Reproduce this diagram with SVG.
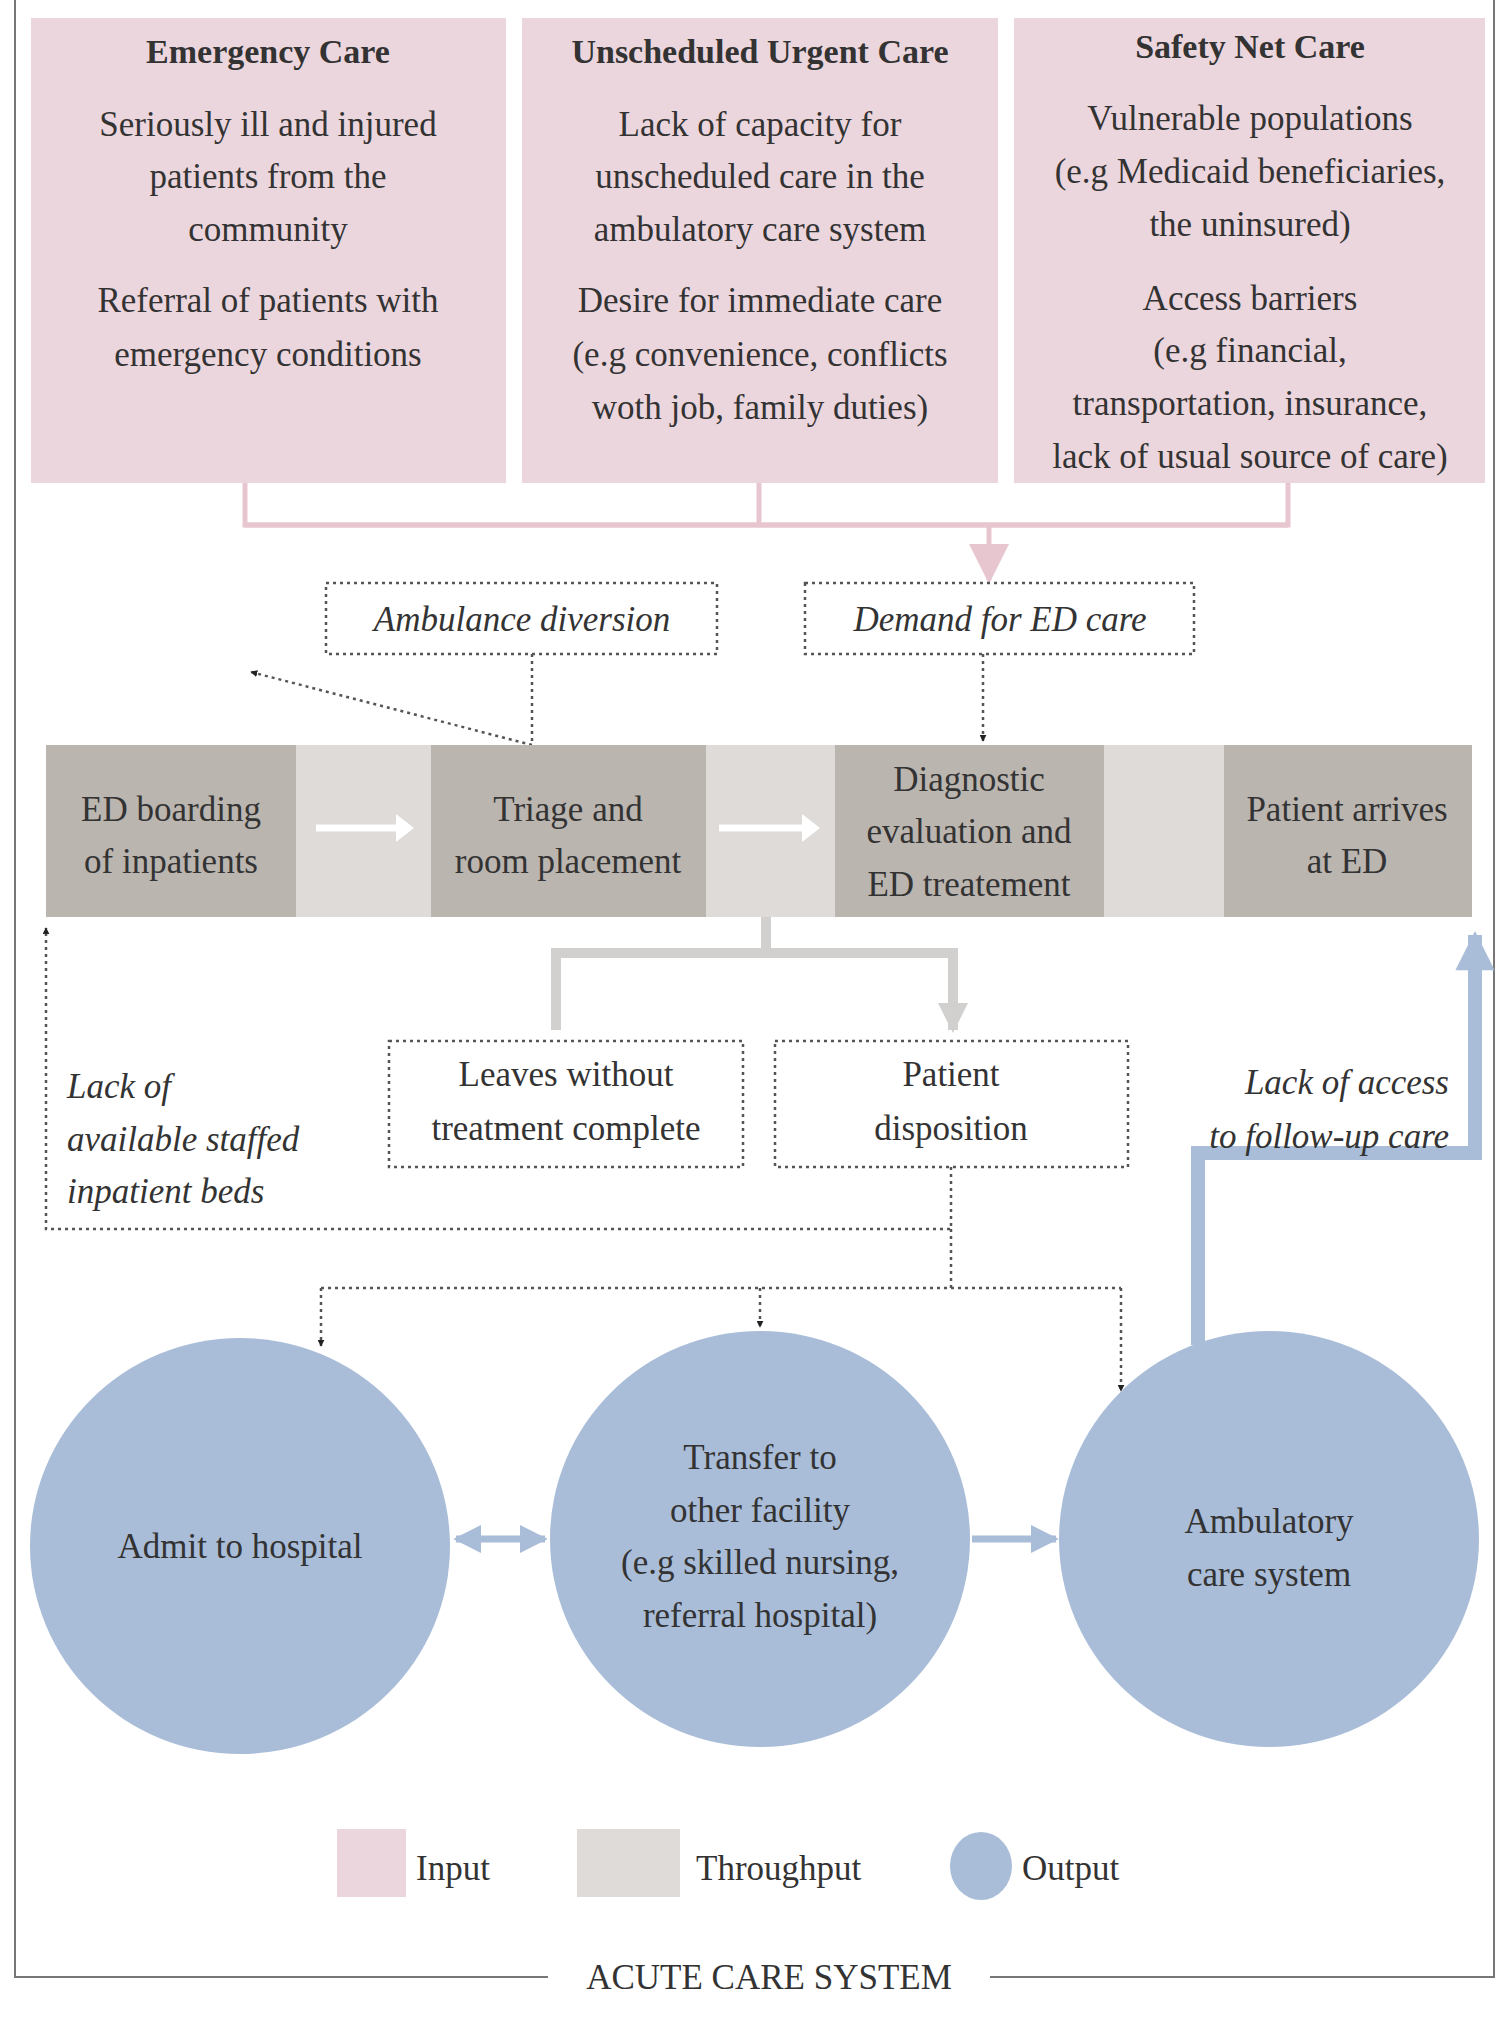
<svg xmlns="http://www.w3.org/2000/svg" width="1507" height="2020" viewBox="0 0 1507 2020">
<defs>
<style>
text{font-family:"Liberation Serif",serif;fill:#333;font-size:35px;text-anchor:middle}
.b{font-weight:bold;font-size:34px}
.i{font-style:italic}
.l{text-anchor:start}.r{text-anchor:end}
.pink{fill:#ecd6dd}
.dk{fill:#bbb5b0}
.blue{fill:#a9bdd8}
.dot{fill:none;stroke:#555;stroke-width:2.5;stroke-dasharray:3 4}
</style>
<marker id="ah" viewBox="0 0 10 10" refX="9" refY="5" markerWidth="7" markerHeight="7" markerUnits="userSpaceOnUse" orient="auto"><path d="M0,0L10,5L0,10z" fill="#222"/></marker>
<marker id="ap" viewBox="0 0 10 10" refX="9" refY="5" markerWidth="8" markerHeight="8" orient="auto"><path d="M0,0L10,5L0,10z" fill="#e8c6d0"/></marker>
<marker id="ag" viewBox="0 0 10 10" refX="9" refY="5" markerWidth="3" markerHeight="3" orient="auto"><path d="M0,0L10,5L0,10z" fill="#d2d0ce"/></marker>
<marker id="ab" viewBox="0 0 10 10" refX="9" refY="5" markerWidth="4" markerHeight="4" orient="auto-start-reverse"><path d="M0,0L10,5L0,10z" fill="#a9bdd8"/></marker>
<marker id="abig" viewBox="0 0 10 10" refX="9" refY="5" markerWidth="3.2" markerHeight="2.8" orient="auto"><path d="M0,0L10,5L0,10z" fill="#a9bdd8"/></marker>
</defs>
<rect width="1507" height="2020" fill="#fff"/>
<g id="frame" fill="none" stroke="#777" stroke-width="2">
<path d="M15,0V1977H548M990,1977H1494V0"/>
</g>
<text x="769" y="1989" font-size="36">ACUTE CARE SYSTEM</text>

<g id="connectors">
<path d="M245,483V525H1288V483M759,483V525M989,525V580" fill="none" stroke="#e8c6d0" stroke-width="5" marker-end="url(#ap)"/>
<path d="M245,525H1288" stroke="#e8c6d0" stroke-width="5"/>
<path class="dot" d="M983,654V741" marker-end="url(#ah)"/>
<path class="dot" d="M532,654V745L251,672" marker-end="url(#ah)"/>
<path d="M766,917V953M556,953H953M556,948V1030M953,948V1030" fill="none" stroke="#d2d0ce" stroke-width="10" marker-end="url(#ag)"/>
<path class="dot" d="M951,1167V1229H46V928" marker-end="url(#ah)"/>
<path class="dot" d="M951,1229V1288"/>
<path class="dot" d="M321,1288H1121"/>
<path class="dot" d="M321,1288V1346" marker-end="url(#ah)"/>
<path class="dot" d="M760,1288V1327" marker-end="url(#ah)"/>
<path class="dot" d="M1121,1288V1391" marker-end="url(#ah)"/>
<path d="M456,1539H545" stroke="#a9bdd8" stroke-width="7" marker-start="url(#ab)" marker-end="url(#ab)"/>
<path d="M972,1539H1056" stroke="#a9bdd8" stroke-width="7" marker-end="url(#ab)"/>
<path d="M1198,1345V1153H1475V935" fill="none" stroke="#a9bdd8" stroke-width="14" marker-end="url(#abig)"/>
</g>

<g id="emergency"><rect class="pink" x="31" y="18" width="475" height="465"/>
<text class="b" x="268" y="63">Emergency Care</text>
<text x="268" y="136">Seriously ill and injured</text>
<text x="268" y="188">patients from the</text>
<text x="268" y="241">community</text>
<text x="268" y="312">Referral of patients with</text>
<text x="268" y="366">emergency conditions</text></g>
<g id="urgent"><rect class="pink" x="522" y="18" width="476" height="465"/>
<text class="b" x="760" y="63">Unscheduled Urgent Care</text>
<text x="760" y="136">Lack of capacity for</text>
<text x="760" y="188">unscheduled care in the</text>
<text x="760" y="241">ambulatory care system</text>
<text x="760" y="312">Desire for immediate care</text>
<text x="760" y="366">(e.g convenience, conflicts</text>
<text x="760" y="419">woth job, family duties)</text></g>
<g id="safety"><rect class="pink" x="1014" y="18" width="471" height="465"/>
<text class="b" x="1250" y="58">Safety Net Care</text>
<text x="1250" y="130">Vulnerable populations</text>
<text x="1250" y="183">(e.g Medicaid beneficiaries,</text>
<text x="1250" y="236">the uninsured)</text>
<text x="1250" y="310">Access barriers</text>
<text x="1250" y="362">(e.g financial,</text>
<text x="1250" y="415">transportation, insurance,</text>
<text x="1250" y="468">lack of usual source of care)</text></g>

<g id="ambulance"><rect class="dot" x="326" y="583" width="391" height="71"/><text class="i" x="522" y="631">Ambulance diversion</text></g>
<g id="demand"><rect class="dot" x="805" y="583" width="389" height="71"/><text class="i" x="1000" y="631">Demand for ED care</text></g>

<g id="band"><rect x="46" y="745" width="1426" height="172" fill="#dedbd8"/>
<path d="M316,828H400M719,828H806" stroke="#fff" stroke-width="7"/>
<path d="M396,814L414,828L396,842zM802,814L820,828L802,842z" fill="#fff"/></g>
<g id="boarding"><rect class="dk" x="46" y="745" width="250" height="172"/><text x="171" y="821">ED boarding</text><text x="171" y="873">of inpatients</text></g>
<g id="triage"><rect class="dk" x="431" y="745" width="275" height="172"/><text x="568" y="821">Triage and</text><text x="568" y="873">room placement</text></g>
<g id="diagnostic"><rect class="dk" x="835" y="745" width="269" height="172"/><text x="969" y="791">Diagnostic</text><text x="969" y="843">evaluation and</text><text x="969" y="896">ED treatement</text></g>
<g id="arrives"><rect class="dk" x="1224" y="745" width="248" height="172"/><text x="1347" y="821">Patient arrives</text><text x="1347" y="873">at ED</text></g>

<g id="leaves"><rect class="dot" x="389" y="1041" width="354" height="126"/><text x="566" y="1086">Leaves without</text><text x="566" y="1140">treatment complete</text></g>
<g id="disposition"><rect class="dot" x="775" y="1041" width="353" height="126"/><text x="951" y="1086">Patient</text><text x="951" y="1140">disposition</text></g>

<g id="lackbeds"><text class="i l" x="67" y="1098">Lack of</text><text class="i l" x="67" y="1151">available staffed</text><text class="i l" x="67" y="1203">inpatient beds</text></g>
<g id="lackaccess"><text class="i r" x="1449" y="1094">Lack of access</text><text class="i r" x="1449" y="1148">to follow-up care</text></g>

<g id="admit"><ellipse class="blue" cx="240" cy="1546" rx="210" ry="208"/><text x="240" y="1558">Admit to hospital</text></g>
<g id="transfer"><ellipse class="blue" cx="760" cy="1539" rx="210" ry="208"/>
<text x="760" y="1469">Transfer to</text><text x="760" y="1522">other facility</text><text x="760" y="1574">(e.g skilled nursing,</text><text x="760" y="1627">referral hospital)</text></g>
<g id="ambulatory"><ellipse class="blue" cx="1269" cy="1539" rx="210" ry="208"/><text x="1269" y="1533">Ambulatory</text><text x="1269" y="1586">care system</text></g>

<g id="legend">
<rect class="pink" x="337" y="1829" width="69" height="68"/><text class="l" x="416" y="1880">Input</text>
<rect x="577" y="1829" width="103" height="68" fill="#dedbd8"/><text class="l" x="696" y="1880">Throughput</text>
<ellipse class="blue" cx="981" cy="1866" rx="31" ry="34"/><text class="l" x="1022" y="1880">Output</text>
</g>
</svg>
